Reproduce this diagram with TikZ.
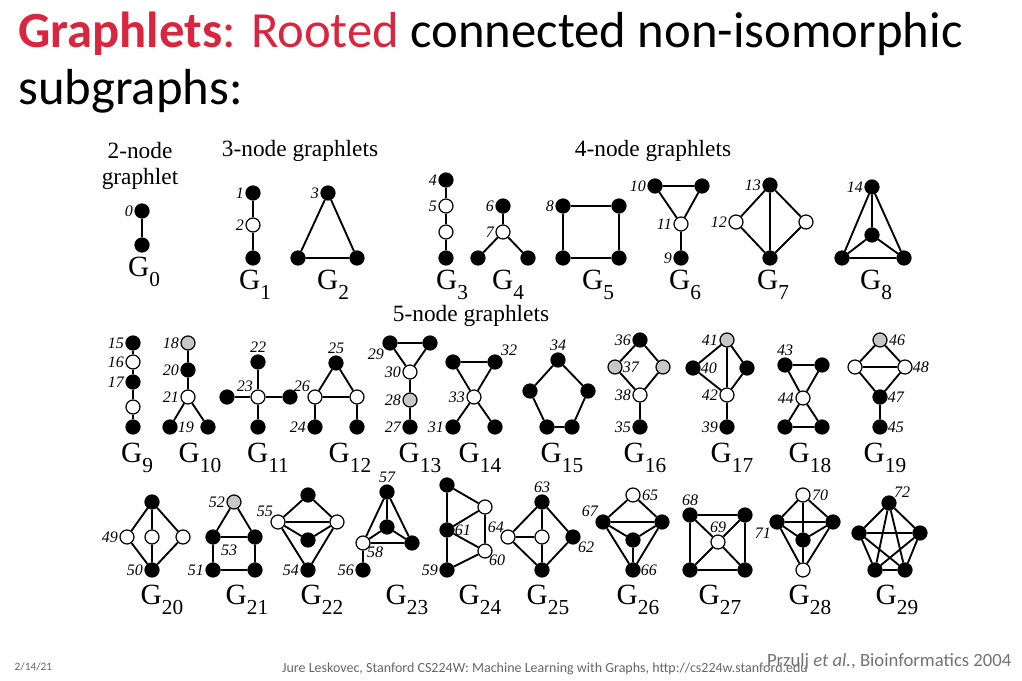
\documentclass[tikz,border=0pt]{standalone}
\usepackage{fontspec}
\setmainfont{Liberation Serif}
\newfontfamily\calfnt{Carlito}
\definecolor{tred}{HTML}{D7263D}
\newcommand\GG[1]{G\raisebox{-0.35em}{\fontsize{16}{16}\selectfont #1}}
\begin{document}
\begin{tikzpicture}[x=0.75pt,y=-0.75pt,
  v/.style={circle,draw=black,line width=0.9pt,minimum size=10.5pt,inner sep=0pt},
  bn/.style={v,fill=black},
  wn/.style={v,fill=white},
  gn/.style={v,fill=black!22},
  lab/.style={font=\fontsize{12}{12}\selectfont\itshape,inner sep=1pt},
  gl/.style={font=\fontsize{22}{22}\selectfont},
  hd/.style={font=\fontsize{17.5}{19}\selectfont,align=center},
  e/.style={line width=1.4pt},
  every label/.style={lab}]
\useasboundingbox (0,0) rectangle (1022,681);
% title
\node[anchor=base west,inner sep=0,font=\calfnt\fontsize{38}{38}\selectfont] (t1) at (18,48) {\textcolor{tred}{\textbf{Graphlets}: Rooted} connected non-isomorphic};
\node[anchor=base west,inner sep=0,font=\calfnt\fontsize{38}{38}\selectfont] (t2) at (18,105) {subgraphs:};
% headers
\node[hd] (h2) at (140,166) {2-node\\graphlet};
\node[hd] (h3) at (300,151) {3-node graphlets};
\node[hd] (h4) at (653,151) {4-node graphlets};
\node[hd] (h5) at (471,316) {5-node graphlets};
% G0
\node[bn,label=left:0] (a0) at (142,211) {};
\node[bn] (b0) at (142,245) {};
\draw[e] (a0)--(b0);
\node[gl] (L0) at (144,272) {\GG{0}};
% G1
\node[bn,label=left:1] (a1) at (253,193) {};
\node[wn,label=left:2] (b1) at (253,225) {};
\node[bn] (c1) at (253,258) {};
\draw[e] (a1)--(b1)--(c1);
\node[gl] (L1) at (255,285) {\GG{1}};
% G2
\node[bn,label=left:3] (a2) at (328,193) {};
\node[bn] (b2) at (298,258) {};
\node[bn] (c2) at (357,258) {};
\draw[e] (a2)--(b2)--(c2)--(a2);
\node[gl] (L2) at (333,285) {\GG{2}};
% G3
\node[bn,label=left:4] (a3) at (446,180) {};
\node[wn,label=left:5] (b3) at (446,206) {};
\node[wn] (c3) at (446,232) {};
\node[bn] (d3) at (446,258) {};
\draw[e] (a3)--(b3)--(c3)--(d3);
\node[gl] (L3) at (452,285) {\GG{3}};
% G4
\node[bn,label=left:6] (a4) at (503,206) {};
\node[wn,label=left:7] (b4) at (503,232) {};
\node[bn] (c4) at (478,258) {};
\node[bn] (d4) at (528,258) {};
\draw[e] (a4)--(b4)--(c4) (b4)--(d4);
\node[gl] (L4) at (508,285) {\GG{4}};
% G5
\node[bn,label=left:8] (a5) at (563,206) {};
\node[bn] (b5) at (619,206) {};
\node[bn] (c5) at (563,258) {};
\node[bn] (d5) at (619,258) {};
\draw[e] (a5)--(b5)--(d5)--(c5)--(a5);
\node[gl] (L5) at (598,285) {\GG{5}};
% G6
\node[bn,label=left:10] (a6) at (655,186) {};
\node[bn] (b6) at (702,186) {};
\node[wn,label=left:11] (c6) at (681,224) {};
\node[bn,label=left:9] (d6) at (681,258) {};
\draw[e] (a6)--(b6)--(c6)--(a6) (c6)--(d6);
\node[gl] (L6) at (685,285) {\GG{6}};
% G7
\node[bn,label=left:13] (a7) at (770,185) {};
\node[wn,label=left:12] (b7) at (736,222) {};
\node[wn] (c7) at (806,222) {};
\node[bn] (d7) at (770,258) {};
\draw[e] (a7)--(b7)--(d7)--(c7)--(a7)--(d7);
\node[gl] (L7) at (773,285) {\GG{7}};
% G8
\node[bn,label=left:14] (a8) at (872,187) {};
\node[bn] (b8) at (872,235) {};
\node[bn] (c8) at (842,258) {};
\node[bn] (d8) at (904,258) {};
\draw[e] (a8)--(b8) (a8)--(c8) (a8)--(d8) (b8)--(c8) (b8)--(d8) (c8)--(d8);
\node[gl] (L8) at (876,285) {\GG{8}};
% G9
\node[bn,label=left:15] (a9) at (133,343) {};
\node[wn,label=left:16] (b9) at (133,362) {};
\node[bn,label=left:17] (c9) at (133,382) {};
\node[wn] (d9) at (133,407) {};
\node[bn] (f9) at (133,427) {};
\draw[e] (a9)--(b9)--(c9)--(d9)--(f9);
\node[gl] (L9) at (137,458) {\GG{9}};
% G10
\node[gn,label=left:18] (a10) at (188,343) {};
\node[bn,label=left:20] (b10) at (188,370) {};
\node[wn,label=left:21] (c10) at (188,397) {};
\node[bn,label={[label distance=-1pt]right:19}] (d10) at (170,427) {};
\node[bn] (f10) at (208,427) {};
\draw[e] (a10)--(b10)--(c10)--(d10) (c10)--(f10);
\node[gl] (L10) at (200,458) {\GG{10}};
% G11
\node[bn,label=above:22] (a11) at (258,362) {};
\node[wn,label={[label distance=-2pt]above left:23}] (c11) at (258,397) {};
\node[bn] (l11) at (227,397) {};
\node[bn] (r11) at (290,397) {};
\node[bn] (d11) at (258,427) {};
\draw[e] (c11)--(a11) (c11)--(d11) (c11)--(l11) (c11)--(r11);
\node[gl] (L11) at (268,458) {\GG{11}};
% G12
\node[bn,label=above:25] (a12) at (336,363) {};
\node[wn,label={[label distance=-2pt]above left:26}] (b12) at (315,397) {};
\node[wn] (c12) at (357,397) {};
\node[bn,label=left:24] (d12) at (315,427) {};
\node[bn] (f12) at (357,427) {};
\draw[e] (a12)--(b12)--(c12)--(a12) (b12)--(d12) (c12)--(f12);
\node[gl] (L12) at (350,458) {\GG{12}};
% G13
\node[bn,label={[label distance=-1pt]below left:29}] (a13) at (390,343) {};
\node[bn] (b13) at (430,343) {};
\node[wn,label=left:30] (c13) at (410,372) {};
\node[gn,label=left:28] (d13) at (410,400) {};
\node[bn,label=left:27] (f13) at (410,427) {};
\draw[e] (a13)--(b13)--(c13)--(a13) (c13)--(d13)--(f13);
\node[gl] (L13) at (420,458) {\GG{13}};
% G14
\node[bn] (a14) at (453,362) {};
\node[bn,label={[label distance=-1pt]above right:32}] (b14) at (495,362) {};
\node[wn,label=left:33] (c14) at (474,397) {};
\node[bn,label=left:31] (d14) at (453,427) {};
\node[bn] (f14) at (495,427) {};
\draw[e] (a14)--(b14)--(c14)--(a14) (c14)--(d14) (c14)--(f14);
\node[gl] (L14) at (480,458) {\GG{14}};
% G15
\node[bn,label=above:34] (a15) at (558,360) {};
\node[bn] (b15) at (530,391) {};
\node[bn] (c15) at (588,391) {};
\node[bn] (d15) at (547,427) {};
\node[bn] (f15) at (572,427) {};
\draw[e] (a15)--(b15)--(d15)--(f15)--(c15)--(a15);
\node[gl] (L15) at (562,458) {\GG{15}};
% G16
\node[bn,label=left:36] (a16) at (640,340) {};
\node[gn,label={[label distance=-1pt]right:37}] (b16) at (615,367) {};
\node[gn] (c16) at (663,367) {};
\node[wn,label=left:38] (d16) at (640,395) {};
\node[bn,label=left:35] (f16) at (640,427) {};
\draw[e] (a16)--(b16)--(d16)--(c16)--(a16) (d16)--(f16);
\node[gl] (L16) at (645,458) {\GG{16}};
% G17
\node[gn,label=left:41] (a17) at (727,340) {};
\node[bn,label={[label distance=-1pt]right:40}] (b17) at (693,368) {};
\node[bn] (c17) at (747,368) {};
\node[wn,label=left:42] (d17) at (727,395) {};
\node[bn,label=left:39] (f17) at (727,427) {};
\draw[e] (a17)--(b17)--(d17)--(c17)--(a17)--(d17)--(f17);
\node[gl] (L17) at (732,458) {\GG{17}};
% G18
\node[bn,label=above:43] (a18) at (785,365) {};
\node[bn] (b18) at (822,365) {};
\node[wn,label=left:44] (c18) at (803,398) {};
\node[bn] (d18) at (785,427) {};
\node[bn] (f18) at (822,427) {};
\draw[e] (a18)--(b18)--(c18)--(a18) (c18)--(d18)--(f18)--(c18);
\node[gl] (L18) at (810,458) {\GG{18}};
% G19
\node[gn,label=right:46] (a19) at (880,340) {};
\node[wn] (b19) at (855,367) {};
\node[wn,label={[label distance=-1pt]right:48}] (c19) at (905,367) {};
\node[bn,label={[label distance=-1pt]right:47}] (d19) at (880,397) {};
\node[bn,label={[label distance=-1pt]right:45}] (f19) at (880,427) {};
\draw[e] (a19)--(b19)--(d19)--(c19)--(a19) (b19)--(c19) (d19)--(f19);
\node[gl] (L19) at (885,458) {\GG{19}};
% G20
\node[bn] (a20) at (152,502) {};
\node[wn,label=left:49] (b20) at (127,537) {};
\node[wn] (c20) at (152,537) {};
\node[wn] (d20) at (183,537) {};
\node[bn,label=left:50] (f20) at (152,570) {};
\draw[e] (a20)--(b20)--(f20)--(c20)--(a20)--(d20)--(f20);
\node[gl] (L20) at (162,600) {\GG{20}};
% G21
\node[gn,label=left:52] (a21) at (234,502) {};
\node[bn] (b21) at (213,537) {};
\node[bn] (c21) at (255,537) {};
\node[bn,label=left:51] (d21) at (213,570) {};
\node[bn] (f21) at (255,570) {};
\node[lab] (n53) at (229,550) {53};
\draw[e] (a21)--(b21)--(c21)--(a21) (b21)--(d21)--(f21)--(c21);
\node[gl] (L21) at (247,600) {\GG{21}};
% G22
\node[bn] (a22) at (308,495) {};
\node[wn,label={[label distance=-2pt]above left:55}] (b22) at (278,522) {};
\node[wn] (c22) at (337,522) {};
\node[bn] (d22) at (308,540) {};
\node[bn,label=left:54] (f22) at (308,570) {};
\draw[e] (a22)--(b22)--(c22)--(a22) (b22)--(d22)--(c22) (b22)--(f22)--(c22);
\node[gl] (L22) at (322,600) {\GG{22}};
% G23
\node[bn,label=above:57] (a23) at (387,492) {};
\node[bn] (b23) at (387,527) {};
\node[wn,label={[label distance=-3pt]below right:58}] (c23) at (363,543) {};
\node[bn] (d23) at (412,543) {};
\node[bn,label=left:56] (f23) at (363,570) {};
\draw[e] (a23)--(c23)--(d23)--(a23)--(b23)--(c23) (b23)--(d23) (c23)--(f23);
\node[gl] (L23) at (407,600) {\GG{23}};
% G24
\node[bn] (a24) at (447,485) {};
\node[wn] (b24) at (485,507) {};
\node[bn,label={[label distance=-1pt]right:61}] (c24) at (447,530) {};
\node[wn,label={[label distance=-3pt]below right:60}] (d24) at (485,551) {};
\node[bn,label=left:59] (f24) at (447,570) {};
\draw[e] (a24)--(b24)--(d24)--(f24)--(c24)--(a24) (c24)--(b24) (c24)--(d24);
\node[gl] (L24) at (480,600) {\GG{24}};
% G25
\node[bn,label=above:63] (a25) at (542,502) {};
\node[wn,label={[label distance=-3pt]above left:64}] (b25) at (508,537) {};
\node[wn] (c25) at (542,537) {};
\node[bn,label={[label distance=-2pt]below right:62}] (d25) at (573,537) {};
\node[bn] (f25) at (542,570) {};
\draw[e] (a25)--(b25)--(f25)--(c25)--(a25)--(d25)--(f25) (b25)--(c25);
\node[gl] (L25) at (548,600) {\GG{25}};
% G26
\node[wn,label=right:65] (a26) at (633,495) {};
\node[bn,label={[label distance=-2pt]above left:67}] (b26) at (603,522) {};
\node[bn] (c26) at (662,522) {};
\node[bn] (d26) at (633,540) {};
\node[bn,label={[label distance=-1pt]right:66}] (f26) at (633,570) {};
\draw[e] (a26)--(b26)--(c26)--(a26) (b26)--(d26)--(c26) (b26)--(f26)--(c26) (d26)--(f26);
\node[gl] (L26) at (638,600) {\GG{26}};
% G27
\node[bn,label=above:68] (a27) at (690,515) {};
\node[bn] (b27) at (745,515) {};
\node[wn,label=above:69] (c27) at (718,542) {};
\node[bn] (d27) at (690,570) {};
\node[bn] (f27) at (745,570) {};
\draw[e] (a27)--(b27)--(f27)--(d27)--(a27) (c27)--(a27) (c27)--(b27) (c27)--(d27) (c27)--(f27);
\node[gl] (L27) at (720,600) {\GG{27}};
% G28
\node[wn,label=right:70] (a28) at (803,495) {};
\node[bn,label={[label distance=-1pt]below left:71}] (b28) at (777,522) {};
\node[bn] (c28) at (833,522) {};
\node[bn] (d28) at (803,540) {};
\node[wn] (f28) at (803,570) {};
\draw[e] (a28)--(b28)--(c28)--(a28)--(d28) (b28)--(d28)--(c28) (b28)--(f28)--(c28) (d28)--(f28);
\node[gl] (L28) at (810,600) {\GG{28}};
% G29
\node[bn,label={[label distance=-2pt]above right:72}] (a29) at (889,503) {};
\node[bn] (b29) at (859,533) {};
\node[bn] (c29) at (920,533) {};
\node[bn] (d29) at (875,570) {};
\node[bn] (f29) at (905,570) {};
\draw[e] (a29)--(b29)--(c29)--(a29)--(d29)--(f29)--(a29) (b29)--(d29) (b29)--(f29) (c29)--(d29) (c29)--(f29);
\node[gl] (L29) at (897,600) {\GG{29}};
% footer
\node[anchor=base west,text=black!60,font=\calfnt\fontsize{8.5}{9}\selectfont] (f1) at (10,670) {2/14/21};
\node[anchor=base,text=black!60,font=\calfnt\fontsize{10.5}{11}\selectfont] (f2) at (545,672) {Jure Leskovec, Stanford CS224W: Machine Learning with Graphs, http://cs224w.stanford.edu};
\node[anchor=base east,text=black!55,font=\calfnt\fontsize{14}{14}\selectfont] (f3) at (1016,666) {Przulj \textit{et al.}, Bioinformatics 2004};
\end{tikzpicture}
\end{document}
